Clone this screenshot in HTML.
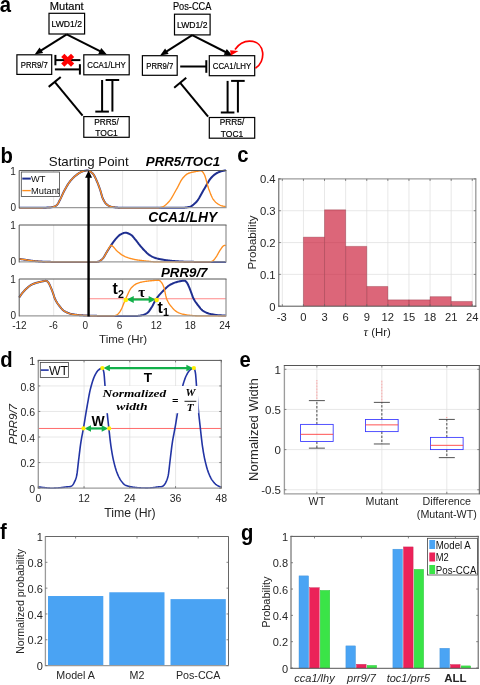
<!DOCTYPE html>
<html><head><meta charset="utf-8"><title>Figure</title>
<style>
html,body{margin:0;padding:0;background:#fff;}
svg{display:block;font-family:"Liberation Sans", Arial, sans-serif;}
</style></head><body>
<svg width="480" height="685" viewBox="0 0 480 685">
<rect width="480" height="685" fill="#fff"/>
<text transform="translate(-0.2 11.9) scale(0.9 1)" font-size="22.5" font-weight="bold" fill="#000">a</text>
<text x="66.7" y="9.5" font-size="10.3" text-anchor="middle" fill="#000" textLength="34" lengthAdjust="spacingAndGlyphs" stroke="#000" stroke-width="0.15">Mutant</text>
<rect x="49" y="13.3" width="35.6" height="20.7" fill="#fff" stroke="#000" stroke-width="1.2" />
<text x="66.8" y="26.75" font-size="8.6" text-anchor="middle" fill="#000" textLength="30.5" lengthAdjust="spacingAndGlyphs" stroke="#000" stroke-width="0.18">LWD1/2</text>
<rect x="16.9" y="54.8" width="34.8" height="19.6" fill="#fff" stroke="#000" stroke-width="1.2" />
<text x="34.3" y="67.7" font-size="8.6" text-anchor="middle" fill="#000" textLength="27" lengthAdjust="spacingAndGlyphs" stroke="#000" stroke-width="0.18">PRR9/7</text>
<rect x="83.8" y="54.8" width="45.4" height="20" fill="#fff" stroke="#000" stroke-width="1.2" />
<text x="106.5" y="67.9" font-size="8.6" text-anchor="middle" fill="#000" textLength="38.5" lengthAdjust="spacingAndGlyphs" stroke="#000" stroke-width="0.18">CCA1/LHY</text>
<rect x="83.8" y="116.6" width="45.4" height="20.7" fill="#fff" stroke="#000" stroke-width="1.2" />
<text x="106.5" y="124.6" font-size="8.6" text-anchor="middle" fill="#000" textLength="24.5" lengthAdjust="spacingAndGlyphs" stroke="#000" stroke-width="0.18">PRR5/</text>
<text x="106.5" y="136" font-size="8.6" text-anchor="middle" fill="#000" textLength="22.5" lengthAdjust="spacingAndGlyphs" stroke="#000" stroke-width="0.18">TOC1</text>
<line x1="66.7" y1="34.3" x2="38.83" y2="51.93" stroke="#000" stroke-width="2" />
<polygon points="34.6,54.6 39.6,47.54 43.13,53.11" fill="#000"/>
<line x1="66.7" y1="34.3" x2="102.44" y2="52.35" stroke="#000" stroke-width="2" />
<polygon points="106.9,54.6 98.27,53.94 101.25,48.05" fill="#000"/>
<line x1="102.1" y1="80" x2="102.1" y2="111.6" stroke="#000" stroke-width="2" />
<line x1="95.3" y1="111.6" x2="108.9" y2="111.6" stroke="#000" stroke-width="2" />
<line x1="112.4" y1="111.6" x2="112.4" y2="80" stroke="#000" stroke-width="2" />
<line x1="119.2" y1="80" x2="105.6" y2="80" stroke="#000" stroke-width="2" />
<line x1="82.6" y1="115.7" x2="54.7" y2="81.9" stroke="#000" stroke-width="2" />
<line x1="60.72" y1="76.93" x2="48.68" y2="86.87" stroke="#000" stroke-width="2" />
<line x1="80.4" y1="60.1" x2="55.4" y2="60.1" stroke="#000" stroke-width="2" />
<line x1="55.4" y1="54.9" x2="55.4" y2="65.3" stroke="#000" stroke-width="2" />
<line x1="54.9" y1="69.4" x2="79.9" y2="69.4" stroke="#000" stroke-width="2" />
<line x1="79.9" y1="74.6" x2="79.9" y2="64.2" stroke="#000" stroke-width="2" />
<g stroke="#f00" stroke-width="4.5" stroke-linecap="butt"><line x1="62.8" y1="55.4" x2="72.6" y2="65.2"/><line x1="72.6" y1="55.4" x2="62.8" y2="65.2"/></g>
<g transform="translate(0 0.9)">
<text x="192.2" y="8.6" font-size="10.3" text-anchor="middle" fill="#000" textLength="38.5" lengthAdjust="spacingAndGlyphs" stroke="#000" stroke-width="0.15">Pos-CCA</text>
<rect x="174.5" y="13.3" width="35.6" height="20.7" fill="#fff" stroke="#000" stroke-width="1.2" />
<text x="192.3" y="26.75" font-size="8.6" text-anchor="middle" fill="#000" textLength="30.5" lengthAdjust="spacingAndGlyphs" stroke="#000" stroke-width="0.18">LWD1/2</text>
<rect x="142.4" y="54.8" width="34.8" height="19.6" fill="#fff" stroke="#000" stroke-width="1.2" />
<text x="159.8" y="67.7" font-size="8.6" text-anchor="middle" fill="#000" textLength="27" lengthAdjust="spacingAndGlyphs" stroke="#000" stroke-width="0.18">PRR9/7</text>
<rect x="209.3" y="54.8" width="45.4" height="20" fill="#fff" stroke="#000" stroke-width="1.2" />
<text x="232" y="67.9" font-size="8.6" text-anchor="middle" fill="#000" textLength="38.5" lengthAdjust="spacingAndGlyphs" stroke="#000" stroke-width="0.18">CCA1/LHY</text>
<rect x="209.3" y="116.6" width="45.4" height="20.7" fill="#fff" stroke="#000" stroke-width="1.2" />
<text x="232" y="124.6" font-size="8.6" text-anchor="middle" fill="#000" textLength="24.5" lengthAdjust="spacingAndGlyphs" stroke="#000" stroke-width="0.18">PRR5/</text>
<text x="232" y="136" font-size="8.6" text-anchor="middle" fill="#000" textLength="22.5" lengthAdjust="spacingAndGlyphs" stroke="#000" stroke-width="0.18">TOC1</text>
<line x1="192.2" y1="34.3" x2="164.33" y2="51.93" stroke="#000" stroke-width="2" />
<polygon points="160.1,54.6 165.1,47.54 168.63,53.11" fill="#000"/>
<line x1="192.2" y1="34.3" x2="227.94" y2="52.35" stroke="#000" stroke-width="2" />
<polygon points="232.4,54.6 223.77,53.94 226.75,48.05" fill="#000"/>
<line x1="227.6" y1="80" x2="227.6" y2="111.6" stroke="#000" stroke-width="2" />
<line x1="220.8" y1="111.6" x2="234.4" y2="111.6" stroke="#000" stroke-width="2" />
<line x1="237.9" y1="111.6" x2="237.9" y2="80" stroke="#000" stroke-width="2" />
<line x1="244.7" y1="80" x2="231.1" y2="80" stroke="#000" stroke-width="2" />
<line x1="208.1" y1="115.7" x2="180.2" y2="81.9" stroke="#000" stroke-width="2" />
<line x1="186.22" y1="76.93" x2="174.18" y2="86.87" stroke="#000" stroke-width="2" />
<line x1="180.2" y1="65.6" x2="206.3" y2="65.6" stroke="#000" stroke-width="2" />
<line x1="206.3" y1="71.9" x2="206.3" y2="59.3" stroke="#000" stroke-width="2" />
<path d="M255.4 67.3 C 266 61.5, 266 40.2, 249.5 40.2 C 243.5 40.2, 238.5 43.5, 235 48.5" stroke="#f00" stroke-width="1.7" fill="none" />
<polygon points="230.1,49.3 238.5,50.0 230.9,54.5" fill="#f00"/>
</g>
<text transform="translate(0.5 163.1) scale(0.9 1)" font-size="22.5" font-weight="bold" fill="#000">b</text>
<line x1="53.67" y1="170.5" x2="53.67" y2="207.7" stroke="#dedede" stroke-width="0.7" />
<line x1="88.13" y1="170.5" x2="88.13" y2="207.7" stroke="#dedede" stroke-width="0.7" />
<line x1="122.6" y1="170.5" x2="122.6" y2="207.7" stroke="#dedede" stroke-width="0.7" />
<line x1="157.07" y1="170.5" x2="157.07" y2="207.7" stroke="#dedede" stroke-width="0.7" />
<line x1="191.53" y1="170.5" x2="191.53" y2="207.7" stroke="#dedede" stroke-width="0.7" />
<path d="M19.20 207.70 L19.89 207.70 L20.58 207.70 L21.27 207.70 L21.97 207.70 L22.66 207.70 L23.35 207.70 L24.04 207.70 L24.73 207.70 L25.42 207.70 L26.12 207.70 L26.81 207.70 L27.50 207.70 L28.19 207.70 L28.88 207.70 L29.57 207.70 L30.27 207.70 L30.96 207.70 L31.65 207.70 L32.34 207.70 L33.03 207.70 L33.72 207.70 L34.42 207.70 L35.11 207.70 L35.80 207.70 L36.49 207.70 L37.18 207.70 L37.87 207.70 L38.57 207.70 L39.26 207.70 L39.95 207.70 L40.64 207.70 L41.33 207.70 L42.02 207.70 L42.72 207.70 L43.41 207.69 L44.10 207.68 L44.79 207.67 L45.48 207.65 L46.17 207.63 L46.87 207.61 L47.56 207.58 L48.25 207.55 L48.94 207.51 L49.63 207.48 L50.32 207.42 L51.02 207.34 L51.71 207.22 L52.40 207.08 L53.09 206.92 L53.78 206.74 L54.47 206.50 L55.17 206.17 L55.86 205.77 L56.55 205.27 L57.24 204.67 L57.93 203.72 L58.62 202.47 L59.32 201.07 L60.01 199.69 L60.70 198.35 L61.39 196.93 L62.08 195.44 L62.77 193.94 L63.46 192.45 L64.16 191.01 L64.85 189.66 L65.54 188.42 L66.23 187.20 L66.92 186.02 L67.61 184.88 L68.31 183.79 L69.00 182.77 L69.69 181.81 L70.38 180.93 L71.07 180.11 L71.76 179.33 L72.46 178.59 L73.15 177.89 L73.84 177.23 L74.53 176.60 L75.22 176.01 L75.91 175.43 L76.61 174.87 L77.30 174.34 L77.99 173.83 L78.68 173.36 L79.37 172.94 L80.06 172.56 L80.76 172.21 L81.45 171.88 L82.14 171.57 L82.83 171.30 L83.52 171.09 L84.21 170.93 L84.91 170.80 L85.60 170.68 L86.29 170.58 L86.98 170.52 L87.67 170.50 L88.36 170.60 L89.06 170.83 L89.75 171.17 L90.44 171.60 L91.13 172.11 L91.82 172.68 L92.51 173.28 L93.21 173.99 L93.90 175.00 L94.59 176.26 L95.28 177.68 L95.97 179.20 L96.66 180.73 L97.36 182.29 L98.05 184.00 L98.74 185.83 L99.43 187.74 L100.12 189.73 L100.81 192.05 L101.51 194.53 L102.20 196.87 L102.89 198.76 L103.58 200.12 L104.27 201.33 L104.96 202.41 L105.65 203.35 L106.35 204.11 L107.04 204.69 L107.73 205.14 L108.42 205.54 L109.11 205.91 L109.80 206.22 L110.50 206.49 L111.19 206.71 L111.88 206.88 L112.57 207.01 L113.26 207.12 L113.95 207.22 L114.65 207.32 L115.34 207.41 L116.03 207.49 L116.72 207.56 L117.41 207.61 L118.10 207.66 L118.80 207.69 L119.49 207.70 L120.18 207.70 L120.87 207.70 L121.56 207.70 L122.25 207.70 L122.95 207.70 L123.64 207.70 L124.33 207.70 L125.02 207.70 L125.71 207.70 L126.40 207.70 L127.10 207.70 L127.79 207.70 L128.48 207.70 L129.17 207.70 L129.86 207.70 L130.55 207.70 L131.25 207.70 L131.94 207.70 L132.63 207.70 L133.32 207.70 L134.01 207.70 L134.70 207.70 L135.40 207.70 L136.09 207.70 L136.78 207.70 L137.47 207.70 L138.16 207.70 L138.85 207.70 L139.55 207.70 L140.24 207.70 L140.93 207.70 L141.62 207.70 L142.31 207.70 L143.00 207.70 L143.69 207.70 L144.39 207.70 L145.08 207.70 L145.77 207.70 L146.46 207.70 L147.15 207.70 L147.84 207.70 L148.54 207.70 L149.23 207.70 L149.92 207.70 L150.61 207.70 L151.30 207.70 L151.99 207.70 L152.69 207.70 L153.38 207.70 L154.07 207.70 L154.76 207.70 L155.45 207.70 L156.14 207.70 L156.84 207.70 L157.53 207.70 L158.22 207.70 L158.91 207.70 L159.60 207.70 L160.29 207.70 L160.99 207.70 L161.68 207.70 L162.37 207.70 L163.06 207.70 L163.75 207.70 L164.44 207.70 L165.14 207.70 L165.83 207.70 L166.52 207.70 L167.21 207.70 L167.90 207.70 L168.59 207.70 L169.29 207.70 L169.98 207.70 L170.67 207.70 L171.36 207.70 L172.05 207.70 L172.74 207.70 L173.44 207.70 L174.13 207.70 L174.82 207.70 L175.51 207.70 L176.20 207.70 L176.89 207.70 L177.59 207.70 L178.28 207.70 L178.97 207.70 L179.66 207.70 L180.35 207.70 L181.04 207.70 L181.74 207.70 L182.43 207.70 L183.12 207.70 L183.81 207.68 L184.50 207.64 L185.19 207.58 L185.88 207.51 L186.58 207.42 L187.27 207.31 L187.96 207.20 L188.65 207.07 L189.34 206.93 L190.03 206.73 L190.73 206.44 L191.42 206.06 L192.11 205.62 L192.80 205.11 L193.49 204.55 L194.18 203.95 L194.88 203.32 L195.57 202.66 L196.26 201.99 L196.95 201.22 L197.64 200.32 L198.33 199.30 L199.03 198.20 L199.72 197.03 L200.41 195.80 L201.10 194.54 L201.79 193.27 L202.48 192.01 L203.18 190.78 L203.87 189.60 L204.56 188.46 L205.25 187.28 L205.94 186.06 L206.63 184.82 L207.33 183.58 L208.02 182.38 L208.71 181.22 L209.40 180.13 L210.09 179.14 L210.78 178.26 L211.48 177.50 L212.17 176.78 L212.86 176.09 L213.55 175.46 L214.24 174.86 L214.93 174.32 L215.63 173.82 L216.32 173.38 L217.01 173.00 L217.70 172.64 L218.39 172.31 L219.08 172.00 L219.78 171.71 L220.47 171.47 L221.16 171.25 L221.85 171.08 L222.54 170.95 L223.23 170.82 L223.93 170.70 L224.62 170.61 L225.31 170.54 L226.00 170.50" stroke="#1f2f90" stroke-width="2" fill="none" stroke-linejoin="round" stroke-linecap="butt"/>
<path d="M19.20 207.70 L19.89 207.70 L20.58 207.70 L21.27 207.70 L21.97 207.70 L22.66 207.70 L23.35 207.70 L24.04 207.70 L24.73 207.70 L25.42 207.70 L26.12 207.70 L26.81 207.70 L27.50 207.70 L28.19 207.70 L28.88 207.70 L29.57 207.70 L30.27 207.70 L30.96 207.70 L31.65 207.70 L32.34 207.70 L33.03 207.70 L33.72 207.70 L34.42 207.70 L35.11 207.70 L35.80 207.70 L36.49 207.70 L37.18 207.70 L37.87 207.70 L38.57 207.70 L39.26 207.70 L39.95 207.70 L40.64 207.70 L41.33 207.70 L42.02 207.70 L42.72 207.70 L43.41 207.69 L44.10 207.68 L44.79 207.67 L45.48 207.65 L46.17 207.63 L46.87 207.61 L47.56 207.58 L48.25 207.55 L48.94 207.51 L49.63 207.48 L50.32 207.42 L51.02 207.34 L51.71 207.22 L52.40 207.08 L53.09 206.92 L53.78 206.74 L54.47 206.50 L55.17 206.17 L55.86 205.77 L56.55 205.27 L57.24 204.67 L57.93 203.72 L58.62 202.47 L59.32 201.07 L60.01 199.69 L60.70 198.35 L61.39 196.93 L62.08 195.44 L62.77 193.94 L63.46 192.45 L64.16 191.01 L64.85 189.66 L65.54 188.42 L66.23 187.20 L66.92 186.02 L67.61 184.88 L68.31 183.79 L69.00 182.77 L69.69 181.81 L70.38 180.93 L71.07 180.11 L71.76 179.33 L72.46 178.59 L73.15 177.89 L73.84 177.23 L74.53 176.60 L75.22 176.01 L75.91 175.43 L76.61 174.87 L77.30 174.34 L77.99 173.83 L78.68 173.36 L79.37 172.94 L80.06 172.56 L80.76 172.21 L81.45 171.88 L82.14 171.57 L82.83 171.30 L83.52 171.09 L84.21 170.93 L84.91 170.80 L85.60 170.68 L86.29 170.58 L86.98 170.52 L87.67 170.50 L88.36 170.60 L89.06 170.83 L89.75 171.17 L90.44 171.60 L91.13 172.11 L91.82 172.68 L92.51 173.28 L93.21 173.99 L93.90 175.00 L94.59 176.26 L95.28 177.68 L95.97 179.20 L96.66 180.73 L97.36 182.29 L98.05 184.00 L98.74 185.83 L99.43 187.74 L100.12 189.73 L100.81 192.05 L101.51 194.53 L102.20 196.87 L102.89 198.76 L103.58 200.12 L104.27 201.33 L104.96 202.41 L105.65 203.35 L106.35 204.11 L107.04 204.69 L107.73 205.14 L108.42 205.54 L109.11 205.91 L109.80 206.22 L110.50 206.49 L111.19 206.71 L111.88 206.88 L112.57 207.01 L113.26 207.12 L113.95 207.22 L114.65 207.32 L115.34 207.41 L116.03 207.49 L116.72 207.56 L117.41 207.61 L118.10 207.66 L118.80 207.69 L119.49 207.70 L120.18 207.70 L120.87 207.70 L121.56 207.70 L122.25 207.70 L122.95 207.70 L123.64 207.70 L124.33 207.70 L125.02 207.70 L125.71 207.70 L126.40 207.70 L127.10 207.70 L127.79 207.70 L128.48 207.70 L129.17 207.70 L129.86 207.70 L130.55 207.70 L131.25 207.70 L131.94 207.70 L132.63 207.70 L133.32 207.70 L134.01 207.70 L134.70 207.70 L135.40 207.70 L136.09 207.70 L136.78 207.70 L137.47 207.70 L138.16 207.70 L138.85 207.70 L139.55 207.70 L140.24 207.70 L140.93 207.70 L141.62 207.70 L142.31 207.70 L143.00 207.70 L143.69 207.70 L144.39 207.70 L145.08 207.70 L145.77 207.70 L146.46 207.70 L147.15 207.70 L147.84 207.70 L148.54 207.70 L149.23 207.70 L149.92 207.70 L150.61 207.70 L151.30 207.70 L151.99 207.70 L152.69 207.70 L153.38 207.70 L154.07 207.70 L154.76 207.70 L155.45 207.70 L156.14 207.70 L156.84 207.70 L157.53 207.70 L158.22 207.70 L158.91 207.70 L159.60 207.64 L160.29 207.52 L160.99 207.34 L161.68 207.13 L162.37 206.91 L163.06 206.63 L163.75 206.26 L164.44 205.81 L165.14 205.30 L165.83 204.73 L166.52 204.12 L167.21 203.47 L167.90 202.78 L168.59 202.08 L169.29 201.30 L169.98 200.41 L170.67 199.41 L171.36 198.33 L172.05 197.19 L172.74 195.99 L173.44 194.75 L174.13 193.50 L174.82 192.24 L175.51 191.00 L176.20 189.78 L176.89 188.59 L177.59 187.33 L178.28 186.00 L178.97 184.64 L179.66 183.28 L180.35 181.95 L181.04 180.70 L181.74 179.56 L182.43 178.55 L183.12 177.71 L183.81 176.94 L184.50 176.20 L185.19 175.52 L185.88 174.90 L186.58 174.35 L187.27 173.89 L187.96 173.53 L188.65 173.25 L189.34 173.01 L190.03 172.79 L190.73 172.59 L191.42 172.41 L192.11 172.25 L192.80 172.11 L193.49 171.97 L194.18 171.84 L194.88 171.72 L195.57 171.59 L196.26 171.46 L196.95 171.33 L197.64 171.22 L198.33 171.11 L199.03 171.02 L199.72 170.95 L200.41 170.90 L201.10 170.87 L201.79 171.02 L202.48 171.64 L203.18 172.59 L203.87 173.71 L204.56 174.98 L205.25 176.83 L205.94 179.14 L206.63 181.71 L207.33 184.33 L208.02 186.81 L208.71 188.94 L209.40 190.79 L210.09 192.62 L210.78 194.38 L211.48 196.02 L212.17 197.49 L212.86 198.76 L213.55 199.77 L214.24 200.64 L214.93 201.43 L215.63 202.14 L216.32 202.77 L217.01 203.33 L217.70 203.82 L218.39 204.24 L219.08 204.64 L219.78 205.00 L220.47 205.31 L221.16 205.58 L221.85 205.81 L222.54 205.99 L223.23 206.16 L223.93 206.31 L224.62 206.44 L225.31 206.53 L226.00 206.58" stroke="#ff8f1f" stroke-width="1.35" fill="none" stroke-linejoin="round" stroke-linecap="butt"/>
<path d="M226 170.5 L226 207.7 L19.2 207.7" stroke="#9a9a9a" stroke-width="1.3" fill="none" />
<path d="M19.2 208.2 L19.2 170.5 L226.5 170.5" stroke="#555" stroke-width="1" fill="none" />
<text x="15.8" y="174.5" font-size="10" text-anchor="end" fill="#262626">1</text>
<text x="16" y="211.1" font-size="10" text-anchor="end" fill="#262626">0</text>
<line x1="53.67" y1="225" x2="53.67" y2="261.9" stroke="#dedede" stroke-width="0.7" />
<line x1="88.13" y1="225" x2="88.13" y2="261.9" stroke="#dedede" stroke-width="0.7" />
<line x1="122.6" y1="225" x2="122.6" y2="261.9" stroke="#dedede" stroke-width="0.7" />
<line x1="157.07" y1="225" x2="157.07" y2="261.9" stroke="#dedede" stroke-width="0.7" />
<line x1="191.53" y1="225" x2="191.53" y2="261.9" stroke="#dedede" stroke-width="0.7" />
<path d="M19.20 258.95 L19.89 259.03 L20.58 259.11 L21.27 259.19 L21.97 259.28 L22.66 259.37 L23.35 259.46 L24.04 259.56 L24.73 259.66 L25.42 259.76 L26.12 259.87 L26.81 259.98 L27.50 260.10 L28.19 260.22 L28.88 260.34 L29.57 260.45 L30.27 260.55 L30.96 260.64 L31.65 260.73 L32.34 260.82 L33.03 260.90 L33.72 260.98 L34.42 261.05 L35.11 261.12 L35.80 261.18 L36.49 261.24 L37.18 261.30 L37.87 261.35 L38.57 261.40 L39.26 261.45 L39.95 261.49 L40.64 261.53 L41.33 261.57 L42.02 261.60 L42.72 261.63 L43.41 261.65 L44.10 261.68 L44.79 261.70 L45.48 261.73 L46.17 261.75 L46.87 261.78 L47.56 261.80 L48.25 261.82 L48.94 261.84 L49.63 261.85 L50.32 261.87 L51.02 261.88 L51.71 261.89 L52.40 261.89 L53.09 261.90 L53.78 261.90 L54.47 261.90 L55.17 261.90 L55.86 261.90 L56.55 261.90 L57.24 261.90 L57.93 261.90 L58.62 261.90 L59.32 261.90 L60.01 261.90 L60.70 261.90 L61.39 261.90 L62.08 261.90 L62.77 261.90 L63.46 261.90 L64.16 261.90 L64.85 261.90 L65.54 261.90 L66.23 261.90 L66.92 261.90 L67.61 261.90 L68.31 261.90 L69.00 261.90 L69.69 261.90 L70.38 261.90 L71.07 261.90 L71.76 261.90 L72.46 261.90 L73.15 261.90 L73.84 261.90 L74.53 261.90 L75.22 261.90 L75.91 261.90 L76.61 261.90 L77.30 261.90 L77.99 261.90 L78.68 261.90 L79.37 261.90 L80.06 261.90 L80.76 261.90 L81.45 261.90 L82.14 261.90 L82.83 261.90 L83.52 261.90 L84.21 261.90 L84.91 261.90 L85.60 261.90 L86.29 261.90 L86.98 261.90 L87.67 261.90 L88.36 261.90 L89.06 261.90 L89.75 261.90 L90.44 261.90 L91.13 261.90 L91.82 261.90 L92.51 261.90 L93.21 261.90 L93.90 261.90 L94.59 261.90 L95.28 261.90 L95.97 261.90 L96.66 261.90 L97.36 261.85 L98.05 261.71 L98.74 261.49 L99.43 261.24 L100.12 260.92 L100.81 260.45 L101.51 259.85 L102.20 259.16 L102.89 258.41 L103.58 257.57 L104.27 256.53 L104.96 255.34 L105.65 254.09 L106.35 252.83 L107.04 251.65 L107.73 250.54 L108.42 249.43 L109.11 248.34 L109.80 247.26 L110.50 246.21 L111.19 245.18 L111.88 244.17 L112.57 243.16 L113.26 242.18 L113.95 241.22 L114.65 240.30 L115.34 239.45 L116.03 238.66 L116.72 237.87 L117.41 237.09 L118.10 236.36 L118.80 235.69 L119.49 235.12 L120.18 234.66 L120.87 234.30 L121.56 233.94 L122.25 233.61 L122.95 233.31 L123.64 233.06 L124.33 232.88 L125.02 232.77 L125.71 232.75 L126.40 232.83 L127.10 232.99 L127.79 233.22 L128.48 233.50 L129.17 233.83 L129.86 234.18 L130.55 234.55 L131.25 234.98 L131.94 235.57 L132.63 236.27 L133.32 237.06 L134.01 237.91 L134.70 238.77 L135.40 239.63 L136.09 240.46 L136.78 241.32 L137.47 242.23 L138.16 243.15 L138.85 244.06 L139.55 244.94 L140.24 245.78 L140.93 246.60 L141.62 247.40 L142.31 248.19 L143.00 248.96 L143.69 249.70 L144.39 250.42 L145.08 251.12 L145.77 251.82 L146.46 252.51 L147.15 253.17 L147.84 253.78 L148.54 254.35 L149.23 254.85 L149.92 255.31 L150.61 255.75 L151.30 256.15 L151.99 256.53 L152.69 256.88 L153.38 257.19 L154.07 257.47 L154.76 257.72 L155.45 257.97 L156.14 258.19 L156.84 258.40 L157.53 258.59 L158.22 258.76 L158.91 258.92 L159.60 259.07 L160.29 259.21 L160.99 259.34 L161.68 259.47 L162.37 259.60 L163.06 259.72 L163.75 259.83 L164.44 259.94 L165.14 260.04 L165.83 260.14 L166.52 260.24 L167.21 260.33 L167.90 260.41 L168.59 260.50 L169.29 260.58 L169.98 260.66 L170.67 260.73 L171.36 260.81 L172.05 260.88 L172.74 260.94 L173.44 261.00 L174.13 261.06 L174.82 261.12 L175.51 261.17 L176.20 261.21 L176.89 261.26 L177.59 261.31 L178.28 261.35 L178.97 261.40 L179.66 261.44 L180.35 261.48 L181.04 261.52 L181.74 261.56 L182.43 261.59 L183.12 261.62 L183.81 261.65 L184.50 261.68 L185.19 261.70 L185.88 261.72 L186.58 261.74 L187.27 261.75 L187.96 261.77 L188.65 261.78 L189.34 261.80 L190.03 261.81 L190.73 261.83 L191.42 261.84 L192.11 261.85 L192.80 261.86 L193.49 261.87 L194.18 261.88 L194.88 261.89 L195.57 261.89 L196.26 261.90 L196.95 261.90 L197.64 261.90 L198.33 261.90 L199.03 261.90 L199.72 261.90 L200.41 261.90 L201.10 261.90 L201.79 261.90 L202.48 261.90 L203.18 261.90 L203.87 261.90 L204.56 261.90 L205.25 261.90 L205.94 261.90 L206.63 261.90 L207.33 261.90 L208.02 261.90 L208.71 261.90 L209.40 261.90 L210.09 261.90 L210.78 261.90 L211.48 261.90 L212.17 261.90 L212.86 261.90 L213.55 261.90 L214.24 261.90 L214.93 261.90 L215.63 261.90 L216.32 261.90 L217.01 261.90 L217.70 261.90 L218.39 261.90 L219.08 261.90 L219.78 261.90 L220.47 261.90 L221.16 261.90 L221.85 261.90 L222.54 261.90 L223.23 261.90 L223.93 261.90 L224.62 261.90 L225.31 261.90 L226.00 261.90" stroke="#1f2f90" stroke-width="2" fill="none" stroke-linejoin="round" stroke-linecap="butt"/>
<path d="M19.20 258.95 L19.89 259.03 L20.58 259.11 L21.27 259.19 L21.97 259.28 L22.66 259.37 L23.35 259.46 L24.04 259.56 L24.73 259.66 L25.42 259.76 L26.12 259.87 L26.81 259.98 L27.50 260.10 L28.19 260.22 L28.88 260.34 L29.57 260.45 L30.27 260.55 L30.96 260.64 L31.65 260.73 L32.34 260.82 L33.03 260.90 L33.72 260.98 L34.42 261.05 L35.11 261.12 L35.80 261.18 L36.49 261.24 L37.18 261.30 L37.87 261.35 L38.57 261.40 L39.26 261.45 L39.95 261.49 L40.64 261.53 L41.33 261.57 L42.02 261.60 L42.72 261.63 L43.41 261.65 L44.10 261.68 L44.79 261.70 L45.48 261.73 L46.17 261.75 L46.87 261.78 L47.56 261.80 L48.25 261.82 L48.94 261.84 L49.63 261.85 L50.32 261.87 L51.02 261.88 L51.71 261.89 L52.40 261.89 L53.09 261.90 L53.78 261.90 L54.47 261.90 L55.17 261.90 L55.86 261.90 L56.55 261.90 L57.24 261.90 L57.93 261.90 L58.62 261.90 L59.32 261.90 L60.01 261.90 L60.70 261.90 L61.39 261.90 L62.08 261.90 L62.77 261.90 L63.46 261.90 L64.16 261.90 L64.85 261.90 L65.54 261.90 L66.23 261.90 L66.92 261.90 L67.61 261.90 L68.31 261.90 L69.00 261.90 L69.69 261.90 L70.38 261.90 L71.07 261.90 L71.76 261.90 L72.46 261.90 L73.15 261.90 L73.84 261.90 L74.53 261.90 L75.22 261.90 L75.91 261.90 L76.61 261.90 L77.30 261.90 L77.99 261.90 L78.68 261.90 L79.37 261.90 L80.06 261.90 L80.76 261.90 L81.45 261.90 L82.14 261.90 L82.83 261.90 L83.52 261.90 L84.21 261.90 L84.91 261.90 L85.60 261.90 L86.29 261.90 L86.98 261.90 L87.67 261.90 L88.36 261.90 L89.06 261.90 L89.75 261.90 L90.44 261.90 L91.13 261.90 L91.82 261.90 L92.51 261.90 L93.21 261.90 L93.90 261.90 L94.59 261.90 L95.28 261.90 L95.97 261.90 L96.66 261.90 L97.36 261.85 L98.05 261.71 L98.74 261.49 L99.43 261.24 L100.12 260.92 L100.81 260.45 L101.51 259.85 L102.20 259.16 L102.89 258.41 L103.58 257.57 L104.27 256.51 L104.96 255.31 L105.65 254.05 L106.35 252.80 L107.04 251.65 L107.73 250.48 L108.42 249.16 L109.11 247.84 L109.80 246.66 L110.50 245.77 L111.19 245.32 L111.88 245.49 L112.57 246.15 L113.26 246.81 L113.95 247.55 L114.65 248.36 L115.34 249.19 L116.03 249.99 L116.72 250.70 L117.41 251.34 L118.10 251.95 L118.80 252.54 L119.49 253.10 L120.18 253.64 L120.87 254.15 L121.56 254.62 L122.25 255.06 L122.95 255.45 L123.64 255.83 L124.33 256.18 L125.02 256.52 L125.71 256.83 L126.40 257.13 L127.10 257.40 L127.79 257.65 L128.48 257.88 L129.17 258.10 L129.86 258.31 L130.55 258.50 L131.25 258.69 L131.94 258.87 L132.63 259.03 L133.32 259.19 L134.01 259.34 L134.70 259.48 L135.40 259.61 L136.09 259.73 L136.78 259.85 L137.47 259.96 L138.16 260.07 L138.85 260.17 L139.55 260.27 L140.24 260.36 L140.93 260.45 L141.62 260.54 L142.31 260.62 L143.00 260.70 L143.69 260.78 L144.39 260.85 L145.08 260.93 L145.77 261.00 L146.46 261.07 L147.15 261.14 L147.84 261.22 L148.54 261.29 L149.23 261.37 L149.92 261.44 L150.61 261.51 L151.30 261.58 L151.99 261.65 L152.69 261.70 L153.38 261.76 L154.07 261.80 L154.76 261.84 L155.45 261.87 L156.14 261.89 L156.84 261.90 L157.53 261.90 L158.22 261.90 L158.91 261.90 L159.60 261.90 L160.29 261.90 L160.99 261.90 L161.68 261.90 L162.37 261.90 L163.06 261.90 L163.75 261.90 L164.44 261.90 L165.14 261.90 L165.83 261.90 L166.52 261.90 L167.21 261.90 L167.90 261.90 L168.59 261.90 L169.29 261.90 L169.98 261.90 L170.67 261.90 L171.36 261.90 L172.05 261.90 L172.74 261.90 L173.44 261.90 L174.13 261.90 L174.82 261.90 L175.51 261.90 L176.20 261.90 L176.89 261.90 L177.59 261.90 L178.28 261.90 L178.97 261.90 L179.66 261.90 L180.35 261.90 L181.04 261.90 L181.74 261.90 L182.43 261.90 L183.12 261.90 L183.81 261.90 L184.50 261.90 L185.19 261.90 L185.88 261.90 L186.58 261.90 L187.27 261.90 L187.96 261.90 L188.65 261.90 L189.34 261.90 L190.03 261.90 L190.73 261.90 L191.42 261.90 L192.11 261.90 L192.80 261.90 L193.49 261.90 L194.18 261.90 L194.88 261.90 L195.57 261.90 L196.26 261.90 L196.95 261.90 L197.64 261.90 L198.33 261.90 L199.03 261.90 L199.72 261.90 L200.41 261.90 L201.10 261.90 L201.79 261.90 L202.48 261.90 L203.18 261.90 L203.87 261.90 L204.56 261.90 L205.25 261.90 L205.94 261.90 L206.63 261.90 L207.33 261.90 L208.02 261.90 L208.71 261.90 L209.40 261.90 L210.09 261.83 L210.78 261.66 L211.48 261.41 L212.17 261.10 L212.86 260.76 L213.55 260.23 L214.24 259.48 L214.93 258.58 L215.63 257.60 L216.32 256.62 L217.01 255.53 L217.70 254.32 L218.39 253.05 L219.08 251.81 L219.78 250.68 L220.47 249.59 L221.16 248.53 L221.85 247.56 L222.54 246.78 L223.23 246.10 L223.93 245.52 L224.62 245.30 L225.31 245.37 L226.00 245.66" stroke="#ff8f1f" stroke-width="1.35" fill="none" stroke-linejoin="round" stroke-linecap="butt"/>
<path d="M226 225 L226 261.9 L19.2 261.9" stroke="#9a9a9a" stroke-width="1.3" fill="none" />
<path d="M19.2 262.4 L19.2 225 L226.5 225" stroke="#555" stroke-width="1" fill="none" />
<text x="15.8" y="229" font-size="10" text-anchor="end" fill="#262626">1</text>
<text x="16" y="265.3" font-size="10" text-anchor="end" fill="#262626">0</text>
<line x1="53.67" y1="279" x2="53.67" y2="315.9" stroke="#dedede" stroke-width="0.7" />
<line x1="88.13" y1="279" x2="88.13" y2="315.9" stroke="#dedede" stroke-width="0.7" />
<line x1="122.6" y1="279" x2="122.6" y2="315.9" stroke="#dedede" stroke-width="0.7" />
<line x1="157.07" y1="279" x2="157.07" y2="315.9" stroke="#dedede" stroke-width="0.7" />
<line x1="191.53" y1="279" x2="191.53" y2="315.9" stroke="#dedede" stroke-width="0.7" />
<line x1="88.13" y1="298.7" x2="226" y2="298.7" stroke="#ff8888" stroke-width="1.1" />
<path d="M19.20 297.45 L19.89 296.40 L20.58 295.38 L21.27 294.42 L21.97 293.50 L22.66 292.64 L23.35 291.82 L24.04 291.04 L24.73 290.29 L25.42 289.59 L26.12 288.94 L26.81 288.31 L27.50 287.69 L28.19 287.08 L28.88 286.50 L29.57 285.95 L30.27 285.45 L30.96 285.00 L31.65 284.63 L32.34 284.31 L33.03 284.01 L33.72 283.74 L34.42 283.48 L35.11 283.24 L35.80 283.02 L36.49 282.81 L37.18 282.62 L37.87 282.43 L38.57 282.26 L39.26 282.09 L39.95 281.94 L40.64 281.78 L41.33 281.61 L42.02 281.45 L42.72 281.29 L43.41 281.15 L44.10 281.03 L44.79 280.93 L45.48 280.87 L46.17 280.85 L46.87 281.06 L47.56 281.64 L48.25 282.40 L48.94 283.34 L49.63 284.73 L50.32 286.33 L51.02 287.93 L51.71 289.66 L52.40 291.49 L53.09 293.39 L53.78 295.54 L54.47 297.70 L55.17 299.30 L55.86 300.65 L56.55 301.87 L57.24 302.97 L57.93 303.97 L58.62 304.91 L59.32 305.81 L60.01 306.70 L60.70 307.57 L61.39 308.41 L62.08 309.19 L62.77 309.90 L63.46 310.52 L64.16 311.02 L64.85 311.42 L65.54 311.80 L66.23 312.15 L66.92 312.47 L67.61 312.78 L68.31 313.05 L69.00 313.30 L69.69 313.53 L70.38 313.74 L71.07 313.92 L71.76 314.07 L72.46 314.21 L73.15 314.33 L73.84 314.45 L74.53 314.56 L75.22 314.66 L75.91 314.76 L76.61 314.85 L77.30 314.93 L77.99 315.00 L78.68 315.07 L79.37 315.13 L80.06 315.19 L80.76 315.24 L81.45 315.29 L82.14 315.33 L82.83 315.37 L83.52 315.41 L84.21 315.44 L84.91 315.48 L85.60 315.51 L86.29 315.54 L86.98 315.56 L87.67 315.59 L88.36 315.61 L89.06 315.64 L89.75 315.66 L90.44 315.69 L91.13 315.71 L91.82 315.74 L92.51 315.76 L93.21 315.78 L93.90 315.80 L94.59 315.82 L95.28 315.84 L95.97 315.86 L96.66 315.87 L97.36 315.88 L98.05 315.89 L98.74 315.90 L99.43 315.90 L100.12 315.90 L100.81 315.90 L101.51 315.90 L102.20 315.90 L102.89 315.90 L103.58 315.90 L104.27 315.90 L104.96 315.90 L105.65 315.90 L106.35 315.90 L107.04 315.90 L107.73 315.90 L108.42 315.90 L109.11 315.90 L109.80 315.90 L110.50 315.90 L111.19 315.90 L111.88 315.90 L112.57 315.90 L113.26 315.90 L113.95 315.90 L114.65 315.90 L115.34 315.90 L116.03 315.90 L116.72 315.90 L117.41 315.90 L118.10 315.90 L118.80 315.90 L119.49 315.90 L120.18 315.90 L120.87 315.90 L121.56 315.90 L122.25 315.90 L122.95 315.90 L123.64 315.90 L124.33 315.90 L125.02 315.90 L125.71 315.90 L126.40 315.90 L127.10 315.90 L127.79 315.90 L128.48 315.90 L129.17 315.90 L129.86 315.90 L130.55 315.90 L131.25 315.90 L131.94 315.90 L132.63 315.90 L133.32 315.90 L134.01 315.90 L134.70 315.90 L135.40 315.90 L136.09 315.90 L136.78 315.90 L137.47 315.89 L138.16 315.84 L138.85 315.77 L139.55 315.67 L140.24 315.55 L140.93 315.41 L141.62 315.27 L142.31 315.12 L143.00 314.95 L143.69 314.73 L144.39 314.48 L145.08 314.18 L145.77 313.84 L146.46 313.47 L147.15 313.04 L147.84 312.52 L148.54 311.79 L149.23 310.90 L149.92 309.90 L150.61 308.86 L151.30 307.81 L151.99 306.71 L152.69 305.47 L153.38 304.15 L154.07 302.80 L154.76 301.47 L155.45 300.21 L156.14 299.07 L156.84 298.08 L157.53 297.15 L158.22 296.27 L158.91 295.43 L159.60 294.62 L160.29 293.85 L160.99 293.10 L161.68 292.37 L162.37 291.66 L163.06 290.96 L163.75 290.27 L164.44 289.59 L165.14 288.89 L165.83 288.20 L166.52 287.53 L167.21 286.89 L167.90 286.29 L168.59 285.74 L169.29 285.26 L169.98 284.86 L170.67 284.49 L171.36 284.14 L172.05 283.80 L172.74 283.49 L173.44 283.19 L174.13 282.91 L174.82 282.65 L175.51 282.41 L176.20 282.19 L176.89 281.99 L177.59 281.81 L178.28 281.65 L178.97 281.50 L179.66 281.34 L180.35 281.19 L181.04 281.06 L181.74 280.93 L182.43 280.82 L183.12 280.74 L183.81 280.69 L184.50 280.66 L185.19 280.83 L185.88 281.42 L186.58 282.24 L187.27 283.17 L187.96 284.50 L188.65 286.07 L189.34 287.67 L190.03 289.41 L190.73 291.25 L191.42 293.09 L192.11 294.99 L192.80 296.94 L193.49 298.57 L194.18 299.85 L194.88 300.99 L195.57 302.03 L196.26 302.98 L196.95 303.88 L197.64 304.76 L198.33 305.63 L199.03 306.53 L199.72 307.43 L200.41 308.31 L201.10 309.12 L201.79 309.85 L202.48 310.47 L203.18 310.94 L203.87 311.35 L204.56 311.73 L205.25 312.08 L205.94 312.41 L206.63 312.72 L207.33 313.00 L208.02 313.26 L208.71 313.50 L209.40 313.71 L210.09 313.90 L210.78 314.07 L211.48 314.22 L212.17 314.35 L212.86 314.47 L213.55 314.59 L214.24 314.70 L214.93 314.80 L215.63 314.89 L216.32 314.98 L217.01 315.05 L217.70 315.12 L218.39 315.18 L219.08 315.23 L219.78 315.28 L220.47 315.33 L221.16 315.37 L221.85 315.42 L222.54 315.46 L223.23 315.49 L223.93 315.52 L224.62 315.54 L225.31 315.56 L226.00 315.57" stroke="#1f2f90" stroke-width="2" fill="none" stroke-linejoin="round" stroke-linecap="butt"/>
<path d="M19.20 297.45 L19.89 296.40 L20.58 295.38 L21.27 294.42 L21.97 293.50 L22.66 292.64 L23.35 291.82 L24.04 291.04 L24.73 290.29 L25.42 289.59 L26.12 288.94 L26.81 288.31 L27.50 287.69 L28.19 287.08 L28.88 286.50 L29.57 285.95 L30.27 285.45 L30.96 285.00 L31.65 284.63 L32.34 284.31 L33.03 284.01 L33.72 283.74 L34.42 283.48 L35.11 283.24 L35.80 283.02 L36.49 282.81 L37.18 282.62 L37.87 282.43 L38.57 282.26 L39.26 282.09 L39.95 281.94 L40.64 281.78 L41.33 281.61 L42.02 281.45 L42.72 281.29 L43.41 281.15 L44.10 281.03 L44.79 280.93 L45.48 280.87 L46.17 280.85 L46.87 281.06 L47.56 281.64 L48.25 282.40 L48.94 283.34 L49.63 284.73 L50.32 286.33 L51.02 287.93 L51.71 289.66 L52.40 291.49 L53.09 293.39 L53.78 295.54 L54.47 297.70 L55.17 299.30 L55.86 300.65 L56.55 301.87 L57.24 302.97 L57.93 303.97 L58.62 304.91 L59.32 305.81 L60.01 306.70 L60.70 307.57 L61.39 308.41 L62.08 309.19 L62.77 309.90 L63.46 310.52 L64.16 311.02 L64.85 311.42 L65.54 311.80 L66.23 312.15 L66.92 312.47 L67.61 312.78 L68.31 313.05 L69.00 313.30 L69.69 313.53 L70.38 313.74 L71.07 313.92 L71.76 314.07 L72.46 314.21 L73.15 314.33 L73.84 314.45 L74.53 314.56 L75.22 314.66 L75.91 314.76 L76.61 314.85 L77.30 314.93 L77.99 315.00 L78.68 315.07 L79.37 315.13 L80.06 315.19 L80.76 315.24 L81.45 315.29 L82.14 315.33 L82.83 315.37 L83.52 315.41 L84.21 315.44 L84.91 315.48 L85.60 315.51 L86.29 315.54 L86.98 315.56 L87.67 315.59 L88.36 315.61 L89.06 315.64 L89.75 315.66 L90.44 315.69 L91.13 315.71 L91.82 315.74 L92.51 315.76 L93.21 315.78 L93.90 315.80 L94.59 315.82 L95.28 315.84 L95.97 315.86 L96.66 315.87 L97.36 315.88 L98.05 315.89 L98.74 315.90 L99.43 315.90 L100.12 315.90 L100.81 315.90 L101.51 315.90 L102.20 315.90 L102.89 315.90 L103.58 315.90 L104.27 315.90 L104.96 315.90 L105.65 315.90 L106.35 315.90 L107.04 315.90 L107.73 315.90 L108.42 315.90 L109.11 315.90 L109.80 315.90 L110.50 315.90 L111.19 315.90 L111.88 315.90 L112.57 315.89 L113.26 315.83 L113.95 315.72 L114.65 315.56 L115.34 315.35 L116.03 315.11 L116.72 314.85 L117.41 314.48 L118.10 313.90 L118.80 313.13 L119.49 312.24 L120.18 311.28 L120.87 310.18 L121.56 308.81 L122.25 307.22 L122.95 305.49 L123.64 303.70 L124.33 301.91 L125.02 300.21 L125.71 298.66 L126.40 297.19 L127.10 295.68 L127.79 294.16 L128.48 292.68 L129.17 291.27 L129.86 289.98 L130.55 288.84 L131.25 287.90 L131.94 287.17 L132.63 286.51 L133.32 285.90 L134.01 285.33 L134.70 284.82 L135.40 284.35 L136.09 283.94 L136.78 283.58 L137.47 283.28 L138.16 283.04 L138.85 282.83 L139.55 282.64 L140.24 282.45 L140.93 282.28 L141.62 282.11 L142.31 281.96 L143.00 281.82 L143.69 281.68 L144.39 281.56 L145.08 281.44 L145.77 281.33 L146.46 281.23 L147.15 281.14 L147.84 281.06 L148.54 280.98 L149.23 280.91 L149.92 280.84 L150.61 280.78 L151.30 280.72 L151.99 280.65 L152.69 280.60 L153.38 280.54 L154.07 280.49 L154.76 280.44 L155.45 280.40 L156.14 280.36 L156.84 280.33 L157.53 280.31 L158.22 280.29 L158.91 280.30 L159.60 280.56 L160.29 281.12 L160.99 281.87 L161.68 282.71 L162.37 283.76 L163.06 285.19 L163.75 286.92 L164.44 289.21 L165.14 292.52 L165.83 295.93 L166.52 298.49 L167.21 300.12 L167.90 301.53 L168.59 302.77 L169.29 303.86 L169.98 304.83 L170.67 305.74 L171.36 306.59 L172.05 307.43 L172.74 308.23 L173.44 308.99 L174.13 309.70 L174.82 310.34 L175.51 310.92 L176.20 311.41 L176.89 311.82 L177.59 312.20 L178.28 312.55 L178.97 312.87 L179.66 313.17 L180.35 313.44 L181.04 313.68 L181.74 313.90 L182.43 314.09 L183.12 314.25 L183.81 314.40 L184.50 314.53 L185.19 314.66 L185.88 314.78 L186.58 314.89 L187.27 315.00 L187.96 315.09 L188.65 315.17 L189.34 315.25 L190.03 315.32 L190.73 315.38 L191.42 315.43 L192.11 315.49 L192.80 315.55 L193.49 315.60 L194.18 315.65 L194.88 315.70 L195.57 315.75 L196.26 315.79 L196.95 315.82 L197.64 315.85 L198.33 315.87 L199.03 315.89 L199.72 315.90 L200.41 315.90 L201.10 315.90 L201.79 315.90 L202.48 315.90 L203.18 315.90 L203.87 315.90 L204.56 315.90 L205.25 315.90 L205.94 315.90 L206.63 315.90 L207.33 315.90 L208.02 315.90 L208.71 315.90 L209.40 315.90 L210.09 315.90 L210.78 315.90 L211.48 315.90 L212.17 315.90 L212.86 315.90 L213.55 315.90 L214.24 315.90 L214.93 315.90 L215.63 315.90 L216.32 315.90 L217.01 315.90 L217.70 315.90 L218.39 315.90 L219.08 315.90 L219.78 315.90 L220.47 315.90 L221.16 315.90 L221.85 315.90 L222.54 315.90 L223.23 315.90 L223.93 315.90 L224.62 315.90 L225.31 315.90 L226.00 315.90" stroke="#ff8f1f" stroke-width="1.35" fill="none" stroke-linejoin="round" stroke-linecap="butt"/>
<path d="M226 279 L226 315.9 L19.2 315.9" stroke="#9a9a9a" stroke-width="1.3" fill="none" />
<path d="M19.2 316.4 L19.2 279 L226.5 279" stroke="#555" stroke-width="1" fill="none" />
<text x="15.8" y="283" font-size="10" text-anchor="end" fill="#262626">1</text>
<text x="16" y="319.3" font-size="10" text-anchor="end" fill="#262626">0</text>
<line x1="88.58" y1="177" x2="88.58" y2="316.5" stroke="#000" stroke-width="2.4" />
<polygon points="88.58,170.6 92.08,177.8 85.08,177.8" fill="#000"/>
<text x="88.7" y="165.6" font-size="13.3" text-anchor="middle" fill="#111">Starting Point</text>
<text x="183" y="166.2" font-size="13.3" text-anchor="middle" fill="#000" font-weight="bold" font-style="italic">PRR5/TOC1</text>
<text x="182.7" y="221.6" font-size="13.8" text-anchor="middle" fill="#000" font-weight="bold" font-style="italic">CCA1/LHY</text>
<text x="184.2" y="277" font-size="13.3" text-anchor="middle" fill="#000" font-weight="bold" font-style="italic">PRR9/7</text>
<text x="19.4" y="328.8" font-size="10" text-anchor="middle" fill="#262626">-12</text>
<text x="53.4" y="328.8" font-size="10" text-anchor="middle" fill="#262626">-6</text>
<text x="85.4" y="328.8" font-size="10" text-anchor="middle" fill="#262626">0</text>
<text x="119.5" y="328.8" font-size="10" text-anchor="middle" fill="#262626">6</text>
<text x="156.2" y="328.8" font-size="10" text-anchor="middle" fill="#262626">12</text>
<text x="190.3" y="328.8" font-size="10" text-anchor="middle" fill="#262626">18</text>
<text x="224.8" y="328.8" font-size="10" text-anchor="middle" fill="#262626">24</text>
<text x="123.1" y="343" font-size="11.5" text-anchor="middle" fill="#262626">Time (Hr)</text>
<rect x="21.3" y="172" width="38.2" height="24.5" fill="#fff" stroke="#444" stroke-width="0.8" />
<line x1="22.3" y1="178.6" x2="30.8" y2="178.6" stroke="#1f2f90" stroke-width="2" />
<line x1="22.3" y1="190.6" x2="30.8" y2="190.6" stroke="#ff8f1f" stroke-width="1.35" />
<text x="31" y="182" font-size="9.3" text-anchor="start" fill="#111">WT</text>
<text x="31" y="194" font-size="9.3" text-anchor="start" fill="#111">Mutant</text>
<line x1="130.76" y1="299.5" x2="151.66" y2="299.5" stroke="#12b04a" stroke-width="2.2" />
<polygon points="126.76,299.5 133.76,296 133.76,303" fill="#12b04a"/>
<polygon points="155.66,299.5 148.66,303 148.66,296" fill="#12b04a"/>
<circle cx="125.76" cy="300" r="2.3" fill="#ffee00"/>
<circle cx="156.66" cy="300" r="2.3" fill="#ffee00"/>
<text x="112.6" y="293.8" font-size="16" text-anchor="start" fill="#000" font-weight="bold">t<tspan font-size="10.6" dy="4.2">2</tspan></text>
<text x="157.6" y="312.9" font-size="16" text-anchor="start" fill="#000" font-weight="bold">t<tspan font-size="10.6" dy="3.2">1</tspan></text>
<text x="141.6" y="296.8" font-size="15" text-anchor="middle" fill="#000" font-weight="bold" font-family='"Liberation Serif", serif'>τ</text>
<text transform="translate(237.3 162.4) scale(0.9 1)" font-size="22.5" font-weight="bold" fill="#000">c</text>
<line x1="282.32" y1="178.9" x2="282.32" y2="306.2" stroke="#dedede" stroke-width="0.7" />
<line x1="303.43" y1="178.9" x2="303.43" y2="306.2" stroke="#dedede" stroke-width="0.7" />
<line x1="324.53" y1="178.9" x2="324.53" y2="306.2" stroke="#dedede" stroke-width="0.7" />
<line x1="345.64" y1="178.9" x2="345.64" y2="306.2" stroke="#dedede" stroke-width="0.7" />
<line x1="366.75" y1="178.9" x2="366.75" y2="306.2" stroke="#dedede" stroke-width="0.7" />
<line x1="387.85" y1="178.9" x2="387.85" y2="306.2" stroke="#dedede" stroke-width="0.7" />
<line x1="408.96" y1="178.9" x2="408.96" y2="306.2" stroke="#dedede" stroke-width="0.7" />
<line x1="430.07" y1="178.9" x2="430.07" y2="306.2" stroke="#dedede" stroke-width="0.7" />
<line x1="451.18" y1="178.9" x2="451.18" y2="306.2" stroke="#dedede" stroke-width="0.7" />
<line x1="472.28" y1="178.9" x2="472.28" y2="306.2" stroke="#dedede" stroke-width="0.7" />
<line x1="278.8" y1="274.38" x2="475.8" y2="274.38" stroke="#dedede" stroke-width="0.7" />
<line x1="278.8" y1="242.55" x2="475.8" y2="242.55" stroke="#dedede" stroke-width="0.7" />
<line x1="278.8" y1="210.73" x2="475.8" y2="210.73" stroke="#dedede" stroke-width="0.7" />
<rect x="303.43" y="237.14" width="21.11" height="69.06" fill="#c8102e" stroke="none" stroke-width="1" fill-opacity="0.64"/>
<rect x="324.53" y="209.77" width="21.11" height="96.43" fill="#c8102e" stroke="none" stroke-width="1" fill-opacity="0.64"/>
<rect x="345.64" y="246.37" width="21.11" height="59.83" fill="#c8102e" stroke="none" stroke-width="1" fill-opacity="0.64"/>
<rect x="366.75" y="286.47" width="21.11" height="19.73" fill="#c8102e" stroke="none" stroke-width="1" fill-opacity="0.64"/>
<rect x="387.85" y="299.83" width="21.11" height="6.37" fill="#c8102e" stroke="none" stroke-width="1" fill-opacity="0.64"/>
<rect x="408.96" y="299.83" width="21.11" height="6.37" fill="#c8102e" stroke="none" stroke-width="1" fill-opacity="0.64"/>
<rect x="430.07" y="296.65" width="21.11" height="9.55" fill="#c8102e" stroke="none" stroke-width="1" fill-opacity="0.64"/>
<rect x="451.18" y="301.43" width="21.11" height="4.77" fill="#c8102e" stroke="none" stroke-width="1" fill-opacity="0.64"/>
<path d="M303.43 306.2 L303.43 237.14 M324.53 306.2 L324.53 209.77 M345.64 306.2 L345.64 209.77 M366.75 306.2 L366.75 246.37 M387.85 306.2 L387.85 286.47 M408.96 306.2 L408.96 299.83 M430.07 306.2 L430.07 296.65 M451.18 306.2 L451.18 296.65 M472.28 306.2 L472.28 301.43 M303.43 237.14 L324.53 237.14 M324.53 209.77 L345.64 209.77 M345.64 246.37 L366.75 246.37 M366.75 286.47 L387.85 286.47 M387.85 299.83 L408.96 299.83 M408.96 299.83 L430.07 299.83 M430.07 296.65 L451.18 296.65 M451.18 301.43 L472.28 301.43 " stroke="#6e0a1c" stroke-width="0.6" fill="none" stroke-opacity="0.45"/>
<line x1="278.3" y1="178.9" x2="476.3" y2="178.9" stroke="#9c9c9c" stroke-width="1.35" />
<line x1="475.8" y1="178.4" x2="475.8" y2="306.7" stroke="#9c9c9c" stroke-width="1.35" />
<line x1="278.8" y1="178.4" x2="278.8" y2="306.7" stroke="#555" stroke-width="1" />
<line x1="278.3" y1="306.2" x2="476.3" y2="306.2" stroke="#555" stroke-width="1" />
<line x1="282.32" y1="306.2" x2="282.32" y2="304.2" stroke="#666" stroke-width="0.8" />
<line x1="282.32" y1="178.9" x2="282.32" y2="180.9" stroke="#666" stroke-width="0.8" />
<text x="281.82" y="321.2" font-size="11.2" text-anchor="middle" fill="#262626">-3</text>
<line x1="303.43" y1="306.2" x2="303.43" y2="304.2" stroke="#666" stroke-width="0.8" />
<line x1="303.43" y1="178.9" x2="303.43" y2="180.9" stroke="#666" stroke-width="0.8" />
<text x="303.43" y="321.2" font-size="11.2" text-anchor="middle" fill="#262626">0</text>
<line x1="324.53" y1="306.2" x2="324.53" y2="304.2" stroke="#666" stroke-width="0.8" />
<line x1="324.53" y1="178.9" x2="324.53" y2="180.9" stroke="#666" stroke-width="0.8" />
<text x="324.53" y="321.2" font-size="11.2" text-anchor="middle" fill="#262626">3</text>
<line x1="345.64" y1="306.2" x2="345.64" y2="304.2" stroke="#666" stroke-width="0.8" />
<line x1="345.64" y1="178.9" x2="345.64" y2="180.9" stroke="#666" stroke-width="0.8" />
<text x="345.64" y="321.2" font-size="11.2" text-anchor="middle" fill="#262626">6</text>
<line x1="366.75" y1="306.2" x2="366.75" y2="304.2" stroke="#666" stroke-width="0.8" />
<line x1="366.75" y1="178.9" x2="366.75" y2="180.9" stroke="#666" stroke-width="0.8" />
<text x="366.75" y="321.2" font-size="11.2" text-anchor="middle" fill="#262626">9</text>
<line x1="387.85" y1="306.2" x2="387.85" y2="304.2" stroke="#666" stroke-width="0.8" />
<line x1="387.85" y1="178.9" x2="387.85" y2="180.9" stroke="#666" stroke-width="0.8" />
<text x="387.85" y="321.2" font-size="11.2" text-anchor="middle" fill="#262626">12</text>
<line x1="408.96" y1="306.2" x2="408.96" y2="304.2" stroke="#666" stroke-width="0.8" />
<line x1="408.96" y1="178.9" x2="408.96" y2="180.9" stroke="#666" stroke-width="0.8" />
<text x="408.96" y="321.2" font-size="11.2" text-anchor="middle" fill="#262626">15</text>
<line x1="430.07" y1="306.2" x2="430.07" y2="304.2" stroke="#666" stroke-width="0.8" />
<line x1="430.07" y1="178.9" x2="430.07" y2="180.9" stroke="#666" stroke-width="0.8" />
<text x="430.07" y="321.2" font-size="11.2" text-anchor="middle" fill="#262626">18</text>
<line x1="451.18" y1="306.2" x2="451.18" y2="304.2" stroke="#666" stroke-width="0.8" />
<line x1="451.18" y1="178.9" x2="451.18" y2="180.9" stroke="#666" stroke-width="0.8" />
<text x="451.18" y="321.2" font-size="11.2" text-anchor="middle" fill="#262626">21</text>
<line x1="472.28" y1="306.2" x2="472.28" y2="304.2" stroke="#666" stroke-width="0.8" />
<line x1="472.28" y1="178.9" x2="472.28" y2="180.9" stroke="#666" stroke-width="0.8" />
<text x="472.28" y="321.2" font-size="11.2" text-anchor="middle" fill="#262626">24</text>
<line x1="278.8" y1="306.2" x2="280.8" y2="306.2" stroke="#666" stroke-width="0.8" />
<line x1="475.8" y1="306.2" x2="473.8" y2="306.2" stroke="#666" stroke-width="0.8" />
<text x="275.6" y="310.5" font-size="11.3" text-anchor="end" fill="#262626">0</text>
<line x1="278.8" y1="274.38" x2="280.8" y2="274.38" stroke="#666" stroke-width="0.8" />
<line x1="475.8" y1="274.38" x2="473.8" y2="274.38" stroke="#666" stroke-width="0.8" />
<text x="275.6" y="278.68" font-size="11.3" text-anchor="end" fill="#262626">0.1</text>
<line x1="278.8" y1="242.55" x2="280.8" y2="242.55" stroke="#666" stroke-width="0.8" />
<line x1="475.8" y1="242.55" x2="473.8" y2="242.55" stroke="#666" stroke-width="0.8" />
<text x="275.6" y="246.85" font-size="11.3" text-anchor="end" fill="#262626">0.2</text>
<line x1="278.8" y1="210.73" x2="280.8" y2="210.73" stroke="#666" stroke-width="0.8" />
<line x1="475.8" y1="210.73" x2="473.8" y2="210.73" stroke="#666" stroke-width="0.8" />
<text x="275.6" y="215.03" font-size="11.3" text-anchor="end" fill="#262626">0.3</text>
<line x1="278.8" y1="178.9" x2="280.8" y2="178.9" stroke="#666" stroke-width="0.8" />
<line x1="475.8" y1="178.9" x2="473.8" y2="178.9" stroke="#666" stroke-width="0.8" />
<text x="275.6" y="183.2" font-size="11.3" text-anchor="end" fill="#262626">0.4</text>
<text x="0" y="0" font-size="11.6" text-anchor="middle" fill="#262626" transform="translate(256.3 242.55) rotate(-90)">Probability</text>
<text x="377.2" y="335.8" font-size="11.4" text-anchor="middle" fill="#262626"><tspan font-family="Liberation Serif, DejaVu Serif, serif" font-style="italic" font-size="12.5">τ</tspan> (Hr)</text>
<text transform="translate(0.3 367.2) scale(0.9 1)" font-size="22.5" font-weight="bold" fill="#000">d</text>
<line x1="84.05" y1="360.4" x2="84.05" y2="488.1" stroke="#dedede" stroke-width="0.7" />
<line x1="129.8" y1="360.4" x2="129.8" y2="488.1" stroke="#dedede" stroke-width="0.7" />
<line x1="175.55" y1="360.4" x2="175.55" y2="488.1" stroke="#dedede" stroke-width="0.7" />
<line x1="38.3" y1="462.56" x2="221.3" y2="462.56" stroke="#dedede" stroke-width="0.7" />
<line x1="38.3" y1="437.02" x2="221.3" y2="437.02" stroke="#dedede" stroke-width="0.7" />
<line x1="38.3" y1="411.48" x2="221.3" y2="411.48" stroke="#dedede" stroke-width="0.7" />
<line x1="38.3" y1="385.94" x2="221.3" y2="385.94" stroke="#dedede" stroke-width="0.7" />
<line x1="38.3" y1="428.46" x2="221.3" y2="428.46" stroke="#ff5a5a" stroke-width="0.9" />
<path d="M38.30 486.82 L38.67 486.88 L39.03 486.94 L39.40 486.99 L39.77 487.05 L40.13 487.10 L40.50 487.15 L40.87 487.20 L41.23 487.25 L41.60 487.30 L41.97 487.35 L42.33 487.40 L42.70 487.44 L43.07 487.48 L43.43 487.53 L43.80 487.57 L44.17 487.60 L44.53 487.64 L44.90 487.68 L45.27 487.73 L45.63 487.77 L46.00 487.81 L46.37 487.85 L46.73 487.89 L47.10 487.93 L47.47 487.97 L47.84 488.01 L48.20 488.04 L48.57 488.08 L48.94 488.11 L49.30 488.14 L49.67 488.16 L50.04 488.18 L50.40 488.20 L50.77 488.21 L51.14 488.22 L51.50 488.23 L51.87 488.23 L52.24 488.22 L52.60 488.22 L52.97 488.21 L53.34 488.20 L53.70 488.19 L54.07 488.17 L54.44 488.16 L54.80 488.14 L55.17 488.12 L55.54 488.10 L55.90 488.08 L56.27 488.06 L56.64 488.03 L57.00 488.01 L57.37 487.98 L57.74 487.96 L58.10 487.93 L58.47 487.90 L58.84 487.88 L59.20 487.85 L59.57 487.82 L59.94 487.79 L60.30 487.75 L60.67 487.71 L61.04 487.66 L61.40 487.61 L61.77 487.56 L62.14 487.51 L62.50 487.46 L62.87 487.40 L63.24 487.34 L63.60 487.29 L63.97 487.23 L64.34 487.18 L64.70 487.13 L65.07 487.08 L65.44 487.03 L65.81 486.99 L66.17 486.95 L66.54 486.91 L66.91 486.88 L67.27 486.86 L67.64 486.83 L68.01 486.81 L68.37 486.78 L68.74 486.76 L69.11 486.73 L69.47 486.69 L69.84 486.64 L70.21 486.59 L70.57 486.51 L70.94 486.35 L71.31 486.14 L71.67 485.87 L72.04 485.57 L72.41 485.23 L72.77 484.87 L73.14 484.41 L73.51 483.85 L73.87 483.20 L74.24 482.48 L74.61 481.72 L74.97 480.91 L75.34 480.06 L75.71 479.10 L76.07 478.00 L76.44 476.68 L76.81 475.03 L77.17 472.65 L77.54 469.70 L77.91 466.44 L78.27 463.10 L78.64 459.94 L79.01 456.98 L79.37 453.93 L79.74 450.87 L80.11 447.89 L80.47 445.09 L80.84 442.56 L81.21 440.29 L81.57 438.19 L81.94 436.21 L82.31 434.30 L82.67 432.41 L83.04 430.49 L83.41 428.48 L83.77 426.36 L84.14 424.18 L84.51 421.96 L84.88 419.71 L85.24 417.45 L85.61 415.19 L85.98 412.95 L86.34 410.75 L86.71 408.60 L87.08 406.51 L87.44 404.45 L87.81 402.36 L88.18 400.28 L88.54 398.21 L88.91 396.20 L89.28 394.26 L89.64 392.41 L90.01 390.69 L90.38 389.11 L90.74 387.68 L91.11 386.30 L91.48 384.97 L91.84 383.69 L92.21 382.46 L92.58 381.29 L92.94 380.17 L93.31 379.12 L93.68 378.14 L94.04 377.23 L94.41 376.38 L94.78 375.62 L95.14 374.90 L95.51 374.20 L95.88 373.52 L96.24 372.89 L96.61 372.29 L96.98 371.73 L97.34 371.22 L97.71 370.77 L98.08 370.38 L98.44 370.05 L98.81 369.77 L99.18 369.50 L99.54 369.24 L99.91 368.99 L100.28 368.76 L100.64 368.55 L101.01 368.37 L101.38 368.23 L101.74 368.13 L102.11 368.07 L102.48 368.10 L102.85 368.65 L103.21 369.71 L103.58 371.16 L103.95 372.93 L104.31 376.43 L104.68 381.34 L105.05 386.28 L105.41 391.17 L105.78 396.36 L106.15 401.44 L106.51 406.02 L106.88 410.00 L107.25 413.70 L107.61 417.18 L107.98 420.52 L108.35 423.77 L108.71 427.02 L109.08 430.33 L109.45 433.68 L109.81 436.99 L110.18 440.18 L110.55 443.16 L110.91 445.86 L111.28 448.31 L111.65 450.65 L112.01 452.85 L112.38 454.93 L112.75 456.87 L113.11 458.67 L113.48 460.33 L113.85 461.91 L114.21 463.42 L114.58 464.87 L114.95 466.25 L115.31 467.57 L115.68 468.81 L116.05 469.99 L116.41 471.09 L116.78 472.12 L117.15 473.08 L117.51 473.99 L117.88 474.87 L118.25 475.71 L118.61 476.51 L118.98 477.27 L119.35 477.99 L119.71 478.66 L120.08 479.29 L120.45 479.87 L120.82 480.40 L121.18 480.90 L121.55 481.39 L121.92 481.87 L122.28 482.33 L122.65 482.77 L123.02 483.19 L123.38 483.59 L123.75 483.96 L124.12 484.30 L124.48 484.60 L124.85 484.87 L125.22 485.10 L125.58 485.28 L125.95 485.43 L126.32 485.58 L126.68 485.72 L127.05 485.84 L127.42 485.97 L127.78 486.08 L128.15 486.19 L128.52 486.29 L128.88 486.38 L129.25 486.47 L129.62 486.55 L129.98 486.63 L130.35 486.71 L130.72 486.78 L131.08 486.85 L131.45 486.91 L131.82 486.97 L132.18 487.03 L132.55 487.09 L132.92 487.15 L133.28 487.20 L133.65 487.26 L134.02 487.31 L134.38 487.36 L134.75 487.41 L135.12 487.46 L135.48 487.50 L135.85 487.55 L136.22 487.59 L136.58 487.63 L136.95 487.66 L137.32 487.70 L137.68 487.73 L138.05 487.76 L138.42 487.79 L138.78 487.81 L139.15 487.83 L139.52 487.85 L139.89 487.87 L140.25 487.89 L140.62 487.91 L140.99 487.93 L141.35 487.95 L141.72 487.96 L142.09 487.98 L142.45 487.99 L142.82 488.01 L143.19 488.02 L143.55 488.04 L143.92 488.05 L144.29 488.06 L144.65 488.07 L145.02 488.08 L145.39 488.09 L145.75 488.09 L146.12 488.10 L146.49 488.10 L146.85 488.10 L147.22 488.10 L147.59 488.09 L147.95 488.08 L148.32 488.07 L148.69 488.05 L149.05 488.03 L149.42 488.00 L149.79 487.98 L150.15 487.95 L150.52 487.92 L150.89 487.89 L151.25 487.85 L151.62 487.82 L151.99 487.78 L152.35 487.75 L152.72 487.71 L153.09 487.67 L153.45 487.63 L153.82 487.57 L154.19 487.51 L154.55 487.45 L154.92 487.39 L155.29 487.32 L155.65 487.26 L156.02 487.19 L156.39 487.13 L156.75 487.07 L157.12 487.02 L157.49 486.97 L157.86 486.93 L158.22 486.89 L158.59 486.86 L158.96 486.84 L159.32 486.82 L159.69 486.79 L160.06 486.77 L160.42 486.74 L160.79 486.71 L161.16 486.67 L161.52 486.62 L161.89 486.56 L162.26 486.44 L162.62 486.25 L162.99 486.01 L163.36 485.73 L163.72 485.40 L164.09 485.06 L164.46 484.65 L164.82 484.14 L165.19 483.53 L165.56 482.85 L165.92 482.11 L166.29 481.32 L166.66 480.50 L167.02 479.60 L167.39 478.57 L167.76 477.37 L168.12 475.93 L168.49 473.93 L168.86 471.23 L169.22 468.09 L169.59 464.77 L169.96 461.49 L170.32 458.48 L170.69 455.46 L171.06 452.40 L171.42 449.37 L171.79 446.47 L172.16 443.79 L172.52 441.40 L172.89 439.22 L173.26 437.19 L173.62 435.25 L173.99 433.36 L174.36 431.46 L174.72 429.50 L175.09 427.43 L175.46 425.28 L175.83 423.07 L176.19 420.84 L176.56 418.58 L176.93 416.32 L177.29 414.07 L177.66 411.84 L178.03 409.66 L178.39 407.54 L178.76 405.48 L179.13 403.41 L179.49 401.32 L179.86 399.24 L180.23 397.20 L180.59 395.22 L180.96 393.32 L181.33 391.53 L181.69 389.88 L182.06 388.38 L182.43 386.99 L182.79 385.63 L183.16 384.33 L183.53 383.07 L183.89 381.87 L184.26 380.72 L184.63 379.64 L184.99 378.62 L185.36 377.67 L185.73 376.80 L186.09 375.99 L186.46 375.26 L186.83 374.54 L187.19 373.86 L187.56 373.20 L187.93 372.58 L188.29 372.00 L188.66 371.47 L189.03 370.99 L189.39 370.57 L189.76 370.21 L190.13 369.91 L190.49 369.63 L190.86 369.37 L191.23 369.11 L191.59 368.87 L191.96 368.65 L192.33 368.46 L192.69 368.30 L193.06 368.18 L193.43 368.10 L193.79 368.06 L194.16 368.30 L194.53 369.12 L194.90 370.39 L195.26 371.99 L195.63 374.41 L196.00 378.79 L196.36 383.89 L196.73 388.66 L197.10 393.75 L197.46 398.93 L197.83 403.81 L198.20 408.05 L198.56 411.88 L198.93 415.47 L199.30 418.86 L199.66 422.15 L200.03 425.39 L200.40 428.67 L200.76 432.00 L201.13 435.34 L201.50 438.60 L201.86 441.70 L202.23 444.55 L202.60 447.10 L202.96 449.49 L203.33 451.76 L203.70 453.91 L204.06 455.91 L204.43 457.79 L204.80 459.52 L205.16 461.13 L205.53 462.67 L205.90 464.15 L206.26 465.57 L206.63 466.92 L207.00 468.20 L207.36 469.41 L207.73 470.55 L208.10 471.62 L208.46 472.61 L208.83 473.54 L209.20 474.44 L209.56 475.30 L209.93 476.12 L210.30 476.90 L210.66 477.64 L211.03 478.33 L211.40 478.98 L211.76 479.59 L212.13 480.14 L212.50 480.65 L212.87 481.14 L213.23 481.61 L213.60 482.06 L213.97 482.49 L214.33 482.91 L214.70 483.30 L215.07 483.67 L215.43 484.02 L215.80 484.34 L216.17 484.64 L216.53 484.92 L216.90 485.16 L217.27 485.39 L217.63 485.60 L218.00 485.81 L218.37 486.01 L218.73 486.19 L219.10 486.37 L219.47 486.53 L219.83 486.68 L220.20 486.81 L220.57 486.92 L220.93 487.01 L221.30 487.08" stroke="#2234a4" stroke-width="1.6" fill="none" stroke-linejoin="round" stroke-linecap="butt"/>
<rect x="100" y="386" width="98.4" height="27.2" fill="#fff" stroke="none" stroke-width="1" />
<line x1="38.3" y1="359.9" x2="38.3" y2="488.6" stroke="#9c9c9c" stroke-width="1.35" />
<line x1="221.3" y1="359.9" x2="221.3" y2="488.6" stroke="#9c9c9c" stroke-width="1.35" />
<line x1="37.8" y1="488.1" x2="221.8" y2="488.1" stroke="#9c9c9c" stroke-width="1.35" />
<line x1="37.8" y1="360.4" x2="221.8" y2="360.4" stroke="#555" stroke-width="1" />
<line x1="38.3" y1="488.1" x2="38.3" y2="486.1" stroke="#666" stroke-width="0.8" />
<line x1="38.3" y1="360.4" x2="38.3" y2="362.4" stroke="#666" stroke-width="0.8" />
<text x="38.3" y="501.9" font-size="10.5" text-anchor="middle" fill="#262626">0</text>
<line x1="84.05" y1="488.1" x2="84.05" y2="486.1" stroke="#666" stroke-width="0.8" />
<line x1="84.05" y1="360.4" x2="84.05" y2="362.4" stroke="#666" stroke-width="0.8" />
<text x="84.05" y="501.9" font-size="10.5" text-anchor="middle" fill="#262626">12</text>
<line x1="129.8" y1="488.1" x2="129.8" y2="486.1" stroke="#666" stroke-width="0.8" />
<line x1="129.8" y1="360.4" x2="129.8" y2="362.4" stroke="#666" stroke-width="0.8" />
<text x="129.8" y="501.9" font-size="10.5" text-anchor="middle" fill="#262626">24</text>
<line x1="175.55" y1="488.1" x2="175.55" y2="486.1" stroke="#666" stroke-width="0.8" />
<line x1="175.55" y1="360.4" x2="175.55" y2="362.4" stroke="#666" stroke-width="0.8" />
<text x="175.55" y="501.9" font-size="10.5" text-anchor="middle" fill="#262626">36</text>
<line x1="221.3" y1="488.1" x2="221.3" y2="486.1" stroke="#666" stroke-width="0.8" />
<line x1="221.3" y1="360.4" x2="221.3" y2="362.4" stroke="#666" stroke-width="0.8" />
<text x="221.3" y="501.9" font-size="10.5" text-anchor="middle" fill="#262626">48</text>
<line x1="38.3" y1="488.1" x2="40.3" y2="488.1" stroke="#666" stroke-width="0.8" />
<line x1="221.3" y1="488.1" x2="219.3" y2="488.1" stroke="#666" stroke-width="0.8" />
<text x="35.1" y="492.8" font-size="10.5" text-anchor="end" fill="#262626">0</text>
<line x1="38.3" y1="462.56" x2="40.3" y2="462.56" stroke="#666" stroke-width="0.8" />
<line x1="221.3" y1="462.56" x2="219.3" y2="462.56" stroke="#666" stroke-width="0.8" />
<text x="35.1" y="467.26" font-size="10.5" text-anchor="end" fill="#262626">0.2</text>
<line x1="38.3" y1="437.02" x2="40.3" y2="437.02" stroke="#666" stroke-width="0.8" />
<line x1="221.3" y1="437.02" x2="219.3" y2="437.02" stroke="#666" stroke-width="0.8" />
<text x="35.1" y="441.72" font-size="10.5" text-anchor="end" fill="#262626">0.4</text>
<line x1="38.3" y1="411.48" x2="40.3" y2="411.48" stroke="#666" stroke-width="0.8" />
<line x1="221.3" y1="411.48" x2="219.3" y2="411.48" stroke="#666" stroke-width="0.8" />
<text x="35.1" y="416.18" font-size="10.5" text-anchor="end" fill="#262626">0.6</text>
<line x1="38.3" y1="385.94" x2="40.3" y2="385.94" stroke="#666" stroke-width="0.8" />
<line x1="221.3" y1="385.94" x2="219.3" y2="385.94" stroke="#666" stroke-width="0.8" />
<text x="35.1" y="390.64" font-size="10.5" text-anchor="end" fill="#262626">0.8</text>
<line x1="38.3" y1="360.4" x2="40.3" y2="360.4" stroke="#666" stroke-width="0.8" />
<line x1="221.3" y1="360.4" x2="219.3" y2="360.4" stroke="#666" stroke-width="0.8" />
<text x="35.1" y="365.1" font-size="10.5" text-anchor="end" fill="#262626">1</text>
<text x="130" y="517" font-size="12.3" text-anchor="middle" fill="#262626">Time (Hr)</text>
<text x="0" y="0" font-size="11.6" text-anchor="middle" fill="#262626" font-style="italic" transform="translate(16.5 424.25) rotate(-90)">PRR9/7</text>
<rect x="40.3" y="362.5" width="28.1" height="15" fill="#fff" stroke="#444" stroke-width="0.8" />
<line x1="40.8" y1="370.1" x2="48.7" y2="370.1" stroke="#2234a4" stroke-width="1.6" />
<text x="49" y="375" font-size="12.3" text-anchor="start" fill="#111">WT</text>
<line x1="88.48" y1="428.46" x2="104.21" y2="428.46" stroke="#12b04a" stroke-width="2.2" />
<polygon points="84.48,428.46 90.98,425.21 90.98,431.71" fill="#12b04a"/>
<polygon points="108.21,428.46 101.71,431.71 101.71,425.21" fill="#12b04a"/>
<circle cx="83.48" cy="428.46" r="2.1" fill="#ffee00"/>
<circle cx="109.21" cy="428.46" r="2.1" fill="#ffee00"/>
<text x="98" y="426.3" font-size="13.9" text-anchor="middle" fill="#000" font-weight="bold">W</text>
<line x1="107.35" y1="368.06" x2="188.85" y2="368.06" stroke="#12b04a" stroke-width="2.2" />
<polygon points="103.35,368.06 109.85,364.81 109.85,371.31" fill="#12b04a"/>
<polygon points="192.85,368.06 186.35,371.31 186.35,364.81" fill="#12b04a"/>
<circle cx="102.35" cy="368.06" r="2.1" fill="#ffee00"/>
<circle cx="193.85" cy="368.06" r="2.1" fill="#ffee00"/>
<text x="147.9" y="382" font-size="13.6" text-anchor="middle" fill="#000" font-weight="bold">T</text>
<text x="102.5" y="397" font-size="11.2" text-anchor="start" fill="#000" font-weight="bold" font-style="italic" font-family='"Liberation Serif", "DejaVu Serif", serif' textLength="63.7" lengthAdjust="spacingAndGlyphs">Normalized</text>
<text x="116.3" y="409.6" font-size="11.2" text-anchor="start" fill="#000" font-weight="bold" font-style="italic" font-family='"Liberation Serif", "DejaVu Serif", serif' textLength="31.2" lengthAdjust="spacingAndGlyphs">width</text>
<text x="175.4" y="405.2" font-size="11.5" text-anchor="middle" fill="#000" font-weight="bold" font-family='"Liberation Serif", "DejaVu Serif", serif'>=</text>
<text x="190.4" y="396.4" font-size="11.2" text-anchor="middle" fill="#000" font-weight="bold" font-style="italic" font-family='"Liberation Serif", "DejaVu Serif", serif'>W</text>
<line x1="184.5" y1="401.3" x2="196.3" y2="401.3" stroke="#000" stroke-width="0.9" />
<text x="190.2" y="410.8" font-size="11.2" text-anchor="middle" fill="#000" font-weight="bold" font-style="italic" font-family='"Liberation Serif", "DejaVu Serif", serif'>T</text>
<text transform="translate(239.5 366.9) scale(0.9 1)" font-size="22.5" font-weight="bold" fill="#000">e</text>
<line x1="316.88" y1="365.5" x2="316.88" y2="493.8" stroke="#dedede" stroke-width="0.7" />
<line x1="381.85" y1="365.5" x2="381.85" y2="493.8" stroke="#dedede" stroke-width="0.7" />
<line x1="446.82" y1="365.5" x2="446.82" y2="493.8" stroke="#dedede" stroke-width="0.7" />
<line x1="284.4" y1="489.75" x2="479.3" y2="489.75" stroke="#dedede" stroke-width="0.7" />
<line x1="284.4" y1="449.6" x2="479.3" y2="449.6" stroke="#dedede" stroke-width="0.7" />
<line x1="284.4" y1="409.45" x2="479.3" y2="409.45" stroke="#dedede" stroke-width="0.7" />
<line x1="284.4" y1="369.3" x2="479.3" y2="369.3" stroke="#dedede" stroke-width="0.7" />
<line x1="316.88" y1="424.39" x2="316.88" y2="400.62" stroke="#222" stroke-width="0.8" stroke-dasharray="2.4 1.6"/>
<line x1="316.88" y1="441.57" x2="316.88" y2="448.15" stroke="#222" stroke-width="0.8" stroke-dasharray="2.4 1.6"/>
<line x1="308.88" y1="400.62" x2="324.88" y2="400.62" stroke="#333" stroke-width="0.85" />
<line x1="308.88" y1="448.15" x2="324.88" y2="448.15" stroke="#333" stroke-width="0.85" />
<rect x="300.58" y="424.39" width="32.6" height="17.18" fill="none" stroke="#3434ff" stroke-width="0.85" />
<line x1="300.58" y1="434.34" x2="333.18" y2="434.34" stroke="#ff4040" stroke-width="0.9" />
<line x1="316.88" y1="399.01" x2="316.88" y2="380.14" stroke="#f77" stroke-width="0.8" stroke-dasharray="0.8 0.7"/>
<line x1="381.85" y1="419.49" x2="381.85" y2="402.38" stroke="#222" stroke-width="0.8" stroke-dasharray="2.4 1.6"/>
<line x1="381.85" y1="431.61" x2="381.85" y2="443.98" stroke="#222" stroke-width="0.8" stroke-dasharray="2.4 1.6"/>
<line x1="373.85" y1="402.38" x2="389.85" y2="402.38" stroke="#333" stroke-width="0.85" />
<line x1="373.85" y1="443.98" x2="389.85" y2="443.98" stroke="#333" stroke-width="0.85" />
<rect x="365.55" y="419.49" width="32.6" height="12.13" fill="none" stroke="#3434ff" stroke-width="0.85" />
<line x1="365.55" y1="424.87" x2="398.15" y2="424.87" stroke="#ff4040" stroke-width="0.9" />
<line x1="381.85" y1="401.42" x2="381.85" y2="380.14" stroke="#f77" stroke-width="0.8" stroke-dasharray="0.8 0.7"/>
<line x1="446.82" y1="437.39" x2="446.82" y2="419.41" stroke="#222" stroke-width="0.8" stroke-dasharray="2.4 1.6"/>
<line x1="446.82" y1="449.6" x2="446.82" y2="457.63" stroke="#222" stroke-width="0.8" stroke-dasharray="2.4 1.6"/>
<line x1="438.82" y1="419.41" x2="454.82" y2="419.41" stroke="#333" stroke-width="0.85" />
<line x1="438.82" y1="457.63" x2="454.82" y2="457.63" stroke="#333" stroke-width="0.85" />
<rect x="430.52" y="437.39" width="32.6" height="12.21" fill="none" stroke="#3434ff" stroke-width="0.85" />
<line x1="430.52" y1="445.34" x2="463.12" y2="445.34" stroke="#ff4040" stroke-width="0.9" />
<circle cx="446.82" cy="417.48" r="0.5" fill="#ff6a6a"/>
<line x1="284.4" y1="365" x2="284.4" y2="494.3" stroke="#9c9c9c" stroke-width="1.35" />
<line x1="283.9" y1="493.8" x2="479.8" y2="493.8" stroke="#9c9c9c" stroke-width="1.35" />
<line x1="283.9" y1="365.5" x2="479.8" y2="365.5" stroke="#555" stroke-width="1" />
<line x1="479.3" y1="365" x2="479.3" y2="494.3" stroke="#555" stroke-width="1" />
<line x1="316.88" y1="493.8" x2="316.88" y2="491.8" stroke="#666" stroke-width="0.8" />
<line x1="316.88" y1="365.5" x2="316.88" y2="367.5" stroke="#666" stroke-width="0.8" />
<line x1="381.85" y1="493.8" x2="381.85" y2="491.8" stroke="#666" stroke-width="0.8" />
<line x1="381.85" y1="365.5" x2="381.85" y2="367.5" stroke="#666" stroke-width="0.8" />
<line x1="446.82" y1="493.8" x2="446.82" y2="491.8" stroke="#666" stroke-width="0.8" />
<line x1="446.82" y1="365.5" x2="446.82" y2="367.5" stroke="#666" stroke-width="0.8" />
<line x1="284.4" y1="489.75" x2="286.4" y2="489.75" stroke="#666" stroke-width="0.8" />
<line x1="479.3" y1="489.75" x2="477.3" y2="489.75" stroke="#666" stroke-width="0.8" />
<text x="281" y="494.05" font-size="11.5" text-anchor="end" fill="#262626">-0.5</text>
<line x1="284.4" y1="449.6" x2="286.4" y2="449.6" stroke="#666" stroke-width="0.8" />
<line x1="479.3" y1="449.6" x2="477.3" y2="449.6" stroke="#666" stroke-width="0.8" />
<text x="281" y="453.9" font-size="11.5" text-anchor="end" fill="#262626">0</text>
<line x1="284.4" y1="409.45" x2="286.4" y2="409.45" stroke="#666" stroke-width="0.8" />
<line x1="479.3" y1="409.45" x2="477.3" y2="409.45" stroke="#666" stroke-width="0.8" />
<text x="281" y="413.75" font-size="11.5" text-anchor="end" fill="#262626">0.5</text>
<line x1="284.4" y1="369.3" x2="286.4" y2="369.3" stroke="#666" stroke-width="0.8" />
<line x1="479.3" y1="369.3" x2="477.3" y2="369.3" stroke="#666" stroke-width="0.8" />
<text x="281" y="373.6" font-size="11.5" text-anchor="end" fill="#262626">1</text>
<text x="316.88" y="504.7" font-size="10.7" text-anchor="middle" fill="#262626">WT</text>
<text x="381.85" y="504.7" font-size="10.7" text-anchor="middle" fill="#262626">Mutant</text>
<text x="446.82" y="504.7" font-size="10.7" text-anchor="middle" fill="#262626">Difference</text>
<text x="446.82" y="518.4" font-size="10.7" text-anchor="middle" fill="#262626">(Mutant-WT)</text>
<text x="0" y="0" font-size="13" text-anchor="middle" fill="#262626" transform="translate(257.7 429.6) rotate(-90)">Normalized Width</text>
<text transform="translate(-0.1 539.4) scale(0.9 1)" font-size="22.5" font-weight="bold" fill="#000">f</text>
<rect x="48" y="596.02" width="55.3" height="69.58" fill="#4aa3f3" stroke="none" stroke-width="1" />
<rect x="109.3" y="592.27" width="55.2" height="73.33" fill="#4aa3f3" stroke="none" stroke-width="1" />
<rect x="170.5" y="599.11" width="55.3" height="66.49" fill="#4aa3f3" stroke="none" stroke-width="1" />
<path d="M45.4 536.5 L228.5 536.5 L228.5 665.6" stroke="#666" stroke-width="1" fill="none" />
<path d="M45.4 536 L45.4 665.6 L229 665.6" stroke="#9a9a9a" stroke-width="1.3" fill="none" />
<line x1="75.6" y1="536.5" x2="75.6" y2="538.5" stroke="#666" stroke-width="0.8" />
<text x="75.6" y="679.1" font-size="10.7" text-anchor="middle" fill="#262626">Model A</text>
<line x1="137" y1="536.5" x2="137" y2="538.5" stroke="#666" stroke-width="0.8" />
<text x="137" y="679.1" font-size="10.7" text-anchor="middle" fill="#262626">M2</text>
<line x1="198.2" y1="536.5" x2="198.2" y2="538.5" stroke="#666" stroke-width="0.8" />
<text x="198.2" y="679.1" font-size="10.7" text-anchor="middle" fill="#262626">Pos-CCA</text>
<line x1="45.4" y1="665.6" x2="47.4" y2="665.6" stroke="#666" stroke-width="0.8" />
<line x1="228.5" y1="665.6" x2="226.5" y2="665.6" stroke="#666" stroke-width="0.8" />
<text x="42.9" y="670.2" font-size="11" text-anchor="end" fill="#262626">0</text>
<line x1="45.4" y1="639.78" x2="47.4" y2="639.78" stroke="#666" stroke-width="0.8" />
<line x1="228.5" y1="639.78" x2="226.5" y2="639.78" stroke="#666" stroke-width="0.8" />
<text x="42.9" y="644.38" font-size="11" text-anchor="end" fill="#262626">0.2</text>
<line x1="45.4" y1="613.96" x2="47.4" y2="613.96" stroke="#666" stroke-width="0.8" />
<line x1="228.5" y1="613.96" x2="226.5" y2="613.96" stroke="#666" stroke-width="0.8" />
<text x="42.9" y="618.56" font-size="11" text-anchor="end" fill="#262626">0.4</text>
<line x1="45.4" y1="588.14" x2="47.4" y2="588.14" stroke="#666" stroke-width="0.8" />
<line x1="228.5" y1="588.14" x2="226.5" y2="588.14" stroke="#666" stroke-width="0.8" />
<text x="42.9" y="592.74" font-size="11" text-anchor="end" fill="#262626">0.6</text>
<line x1="45.4" y1="562.32" x2="47.4" y2="562.32" stroke="#666" stroke-width="0.8" />
<line x1="228.5" y1="562.32" x2="226.5" y2="562.32" stroke="#666" stroke-width="0.8" />
<text x="42.9" y="566.92" font-size="11" text-anchor="end" fill="#262626">0.8</text>
<line x1="45.4" y1="536.5" x2="47.4" y2="536.5" stroke="#666" stroke-width="0.8" />
<line x1="228.5" y1="536.5" x2="226.5" y2="536.5" stroke="#666" stroke-width="0.8" />
<text x="42.9" y="541.1" font-size="11" text-anchor="end" fill="#262626">1</text>
<text x="0" y="0" font-size="10.6" text-anchor="middle" fill="#262626" transform="translate(24.3 601.4) rotate(-90)">Normalized probability</text>
<text transform="translate(241 539.5) scale(0.9 1)" font-size="22.5" font-weight="bold" fill="#000">g</text>
<rect x="299" y="575.88" width="9.6" height="92.12" fill="#4aa4f4" stroke="#3f8fd6" stroke-width="0.4" />
<rect x="309.6" y="587.72" width="9.6" height="80.28" fill="#eb2259" stroke="#c81c4c" stroke-width="0.4" />
<rect x="320.2" y="590.36" width="9.6" height="77.64" fill="#3ae447" stroke="#30c23c" stroke-width="0.4" />
<rect x="345.9" y="645.89" width="9.6" height="22.11" fill="#4aa4f4" stroke="#3f8fd6" stroke-width="0.4" />
<rect x="356.5" y="664.32" width="9.6" height="3.68" fill="#eb2259" stroke="#c81c4c" stroke-width="0.4" />
<rect x="367.1" y="665.37" width="9.6" height="2.63" fill="#3ae447" stroke="#30c23c" stroke-width="0.4" />
<rect x="392.9" y="549.17" width="9.6" height="118.83" fill="#4aa4f4" stroke="#3f8fd6" stroke-width="0.4" />
<rect x="403.5" y="546.93" width="9.6" height="121.07" fill="#eb2259" stroke="#c81c4c" stroke-width="0.4" />
<rect x="414.1" y="569.3" width="9.6" height="98.7" fill="#3ae447" stroke="#30c23c" stroke-width="0.4" />
<rect x="439.9" y="648.26" width="9.6" height="19.74" fill="#4aa4f4" stroke="#3f8fd6" stroke-width="0.4" />
<rect x="450.5" y="664.58" width="9.6" height="3.42" fill="#eb2259" stroke="#c81c4c" stroke-width="0.4" />
<rect x="461.1" y="665.89" width="9.6" height="2.11" fill="#3ae447" stroke="#30c23c" stroke-width="0.4" />
<line x1="291" y1="535.9" x2="291" y2="668.8" stroke="#555" stroke-width="1" />
<line x1="290.5" y1="536.4" x2="478.7" y2="536.4" stroke="#555" stroke-width="1" />
<line x1="478.2" y1="535.9" x2="478.2" y2="668.8" stroke="#555" stroke-width="1" />
<line x1="290.5" y1="668.3" x2="478.7" y2="668.3" stroke="#555" stroke-width="1" />
<line x1="314.5" y1="536.4" x2="314.5" y2="538.4" stroke="#666" stroke-width="0.8" />
<text x="314.5" y="681.5" font-size="11" text-anchor="middle" fill="#262626" font-style="italic">cca1/lhy</text>
<line x1="361.4" y1="536.4" x2="361.4" y2="538.4" stroke="#666" stroke-width="0.8" />
<text x="361.4" y="681.5" font-size="11" text-anchor="middle" fill="#262626" font-style="italic">prr9/7</text>
<line x1="408.4" y1="536.4" x2="408.4" y2="538.4" stroke="#666" stroke-width="0.8" />
<text x="408.4" y="681.5" font-size="11" text-anchor="middle" fill="#262626" font-style="italic">toc1/prr5</text>
<line x1="455.4" y1="536.4" x2="455.4" y2="538.4" stroke="#666" stroke-width="0.8" />
<text x="455.4" y="681.5" font-size="11.5" text-anchor="middle" fill="#262626" font-weight="bold">ALL</text>
<line x1="291" y1="668" x2="293" y2="668" stroke="#666" stroke-width="0.8" />
<line x1="478.2" y1="668" x2="476.2" y2="668" stroke="#666" stroke-width="0.8" />
<text x="288" y="672.6" font-size="11" text-anchor="end" fill="#262626">0</text>
<line x1="291" y1="641.68" x2="293" y2="641.68" stroke="#666" stroke-width="0.8" />
<line x1="478.2" y1="641.68" x2="476.2" y2="641.68" stroke="#666" stroke-width="0.8" />
<text x="288" y="646.28" font-size="11" text-anchor="end" fill="#262626">0.2</text>
<line x1="291" y1="615.36" x2="293" y2="615.36" stroke="#666" stroke-width="0.8" />
<line x1="478.2" y1="615.36" x2="476.2" y2="615.36" stroke="#666" stroke-width="0.8" />
<text x="288" y="619.96" font-size="11" text-anchor="end" fill="#262626">0.4</text>
<line x1="291" y1="589.04" x2="293" y2="589.04" stroke="#666" stroke-width="0.8" />
<line x1="478.2" y1="589.04" x2="476.2" y2="589.04" stroke="#666" stroke-width="0.8" />
<text x="288" y="593.64" font-size="11" text-anchor="end" fill="#262626">0.6</text>
<line x1="291" y1="562.72" x2="293" y2="562.72" stroke="#666" stroke-width="0.8" />
<line x1="478.2" y1="562.72" x2="476.2" y2="562.72" stroke="#666" stroke-width="0.8" />
<text x="288" y="567.32" font-size="11" text-anchor="end" fill="#262626">0.8</text>
<line x1="291" y1="536.4" x2="293" y2="536.4" stroke="#666" stroke-width="0.8" />
<line x1="478.2" y1="536.4" x2="476.2" y2="536.4" stroke="#666" stroke-width="0.8" />
<text x="288" y="541" font-size="11" text-anchor="end" fill="#262626">1</text>
<text x="0" y="0" font-size="11" text-anchor="middle" fill="#262626" transform="translate(269.6 602.2) rotate(-90)">Probability</text>
<rect x="427.5" y="538.3" width="50" height="36.7" fill="#fff" stroke="#444" stroke-width="0.8" />
<rect x="429.3" y="540" width="5.8" height="9" fill="#4aa4f4" stroke="none" stroke-width="1" />
<text x="435.8" y="548.8" font-size="10.6" text-anchor="start" fill="#111" textLength="35.0" lengthAdjust="spacingAndGlyphs">Model A</text>
<rect x="429.3" y="552.5" width="5.8" height="9" fill="#eb2259" stroke="none" stroke-width="1" />
<text x="435.8" y="561.3" font-size="10.6" text-anchor="start" fill="#111" textLength="13.0" lengthAdjust="spacingAndGlyphs">M2</text>
<rect x="429.3" y="565" width="5.8" height="9" fill="#3ae447" stroke="none" stroke-width="1" />
<text x="435.8" y="573.8" font-size="10.6" text-anchor="start" fill="#111" textLength="40.6" lengthAdjust="spacingAndGlyphs">Pos-CCA</text>
</svg>
</body></html>
